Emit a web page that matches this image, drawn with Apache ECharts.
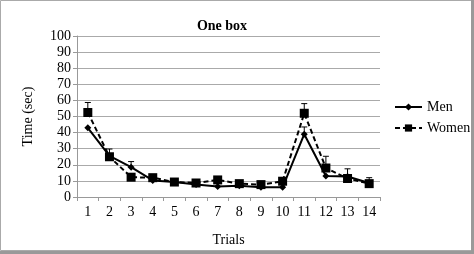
<!DOCTYPE html>
<html>
<head>
<meta charset="utf-8">
<script src="https://cdn.jsdelivr.net/npm/echarts@6/dist/echarts.min.js"></script>
<style>
  html, body { margin: 0; padding: 0; background: #fff; }
  #chart { width: 474px; height: 254px; }
</style>
</head>
<body>
<div id="chart"></div>
<script>
// trials on the x axis
const trials = ['1', '2', '3', '4', '5', '6', '7', '8', '9', '10', '11', '12', '13', '14'];
// mean time (sec)
const men = [43, 25.5, 18.5, 10.3, 9.3, 7.8, 6.5, 7, 6, 6, 39, 13, 12.7, 8.7];
const women = [52.5, 25, 12.3, 12, 9.3, 8.7, 10.6, 8.3, 7.7, 9.8, 52, 18, 11.5, 8.3];
// upper error amounts (0 = none visible)
const menErr = [0, 4.3, 3.5, 0, 0, 0, 0, 0, 0, 0, 4.5, 0, 0, 0];
const womenErr = [6.2, 0, 0, 0, 0, 0, 0, 0, 0, 0, 6, 7.3, 6, 3.7];
const yTicks = { min: 0, max: 100, interval: 10 };

const font = 'Liberation Serif';

function errSeries(vals, errs) {
  const data = [];
  for (let i = 0; i < vals.length; i++) {
    if (errs[i] > 0) data.push([i, vals[i], vals[i] + errs[i]]);
  }
  return {
    type: 'custom',
    silent: true,
    z: 1,
    renderItem: function (params, api) {
      const lo = api.coord([api.value(0), api.value(1)]);
      const hi = api.coord([api.value(0), api.value(2)]);
      const w = 3;
      return {
        type: 'group',
        children: [
          { type: 'line', shape: { x1: lo[0], y1: lo[1], x2: hi[0], y2: hi[1] }, style: { stroke: '#000', lineWidth: 1 } },
          { type: 'line', shape: { x1: hi[0] - w, y1: hi[1], x2: hi[0] + w, y2: hi[1] }, style: { stroke: '#000', lineWidth: 1 } }
        ]
      };
    },
    data: data
  };
}

const chart = echarts.init(document.getElementById('chart'));
chart.setOption({
  animation: false,
  backgroundColor: '#fff',
  title: {
    text: 'One box',
    left: 217,
    textAlign: 'center',
    top: 14,
    textStyle: { fontFamily: font, fontWeight: 'bold', fontSize: 14, color: '#000' }
  },
  legend: {
    orient: 'vertical',
    left: 394,
    top: 100,
    padding: 0,
    itemWidth: 27,
    itemHeight: 9,
    itemGap: 7,
    textStyle: { fontFamily: font, fontSize: 14, color: '#000' },
    data: ['Men', 'Women']
  },
  grid: { left: 77, right: 94, top: 36, bottom: 57 },
  xAxis: {
    type: 'category',
    data: trials,
    boundaryGap: true,
    name: 'Trials',
    nameLocation: 'middle',
    nameGap: 36,
    nameTextStyle: { fontFamily: font, fontSize: 14, color: '#000' },
    axisLine: { lineStyle: { color: '#999' } },
    axisTick: { show: true, length: 4, lineStyle: { color: '#999' } },
    axisLabel: { fontFamily: font, fontSize: 14, color: '#000', margin: 8 }
  },
  yAxis: {
    type: 'value',
    min: yTicks.min,
    max: yTicks.max,
    interval: yTicks.interval,
    name: 'Time (sec)',
    nameLocation: 'middle',
    nameGap: 42,
    nameTextStyle: { fontFamily: font, fontSize: 14, color: '#000' },
    axisLine: { show: true, lineStyle: { color: '#999' } },
    axisTick: { show: true, length: 4, lineStyle: { color: '#999' } },
    splitLine: { lineStyle: { color: '#aaa', width: 1 } },
    axisLabel: { fontFamily: font, fontSize: 14, color: '#000', margin: 6 }
  },
  graphic: [
    { type: 'rect', shape: { x: 0.5, y: 0.5, width: 471, height: 250 }, style: { fill: 'none', stroke: '#aaa', lineWidth: 1 }, z: 100 },
    { type: 'rect', shape: { x: 471, y: 0, width: 3, height: 254 }, style: { fill: '#999' }, z: 100 },
    { type: 'rect', shape: { x: 0, y: 251, width: 474, height: 3 }, style: { fill: '#999' }, z: 100 }
  ],
  series: [
    errSeries(men, menErr),
    errSeries(women, womenErr),
    {
      name: 'Men',
      type: 'line',
      data: men,
      symbol: 'diamond',
      symbolSize: 7,
      z: 3,
      lineStyle: { color: '#000', width: 2 },
      itemStyle: { color: '#000' }
    },
    {
      name: 'Women',
      type: 'line',
      data: women,
      symbol: 'rect',
      symbolSize: 9,
      z: 2,
      lineStyle: { color: '#000', width: 2, type: [5, 3] },
      itemStyle: { color: '#000' }
    }
  ]
});
</script>
</body>
</html>
